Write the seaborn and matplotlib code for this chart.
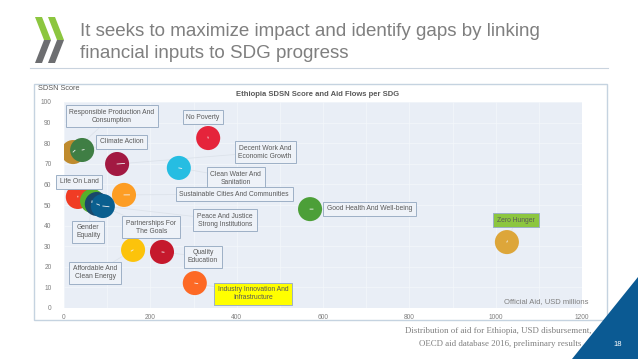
import matplotlib
matplotlib.use("Agg")
import matplotlib.pyplot as plt
import seaborn as sns
import pandas as pd
from matplotlib.patches import Polygon, Rectangle
from matplotlib.lines import Line2D

# ---------------- data ----------------
goals = ["Responsible Production And\nConsumption", "Climate Action", "Decent Work And\nEconomic Growth",
         "No Poverty", "Clean Water And\nSanitation", "Life On Land", "Sustainable Cities And Communities",
         "Gender\nEquality", "Partnerships For\nThe Goals", "Peace And Justice\nStrong Institutions",
         "Affordable And\nClean Energy", "Quality\nEducation", "Industry Innovation And\nInfrastructure",
         "Good Health And Well-being", "Zero Hunger"]
aid = [21, 42, 123, 334, 266, 32, 139, 65, 76, 90, 160, 227, 303, 570, 1026]
score = [75.7, 76.7, 69.9, 82.5, 68.0, 53.9, 54.9, 52.0, 50.5, 49.5, 28.2, 27.2, 12.1, 48.0, 32.0]
colors = ["#bf8b2e", "#3f7e44", "#a21942", "#e5243b", "#26bde2", "#f03c24", "#fd9d24",
          "#56b02b", "#19486a", "#0a5f8f", "#fcc30b", "#c5192d", "#fd6925", "#4c9f38", "#dda63a"]
xticks = [0, 200, 400, 600, 800, 1000, 1200]
yticks = [0, 10, 20, 30, 40, 50, 60, 70, 80, 90, 100]

# label box positions (data coords) - layout
label_pos = [(111, 93.2), (134, 80.6), (466, 75.7), (322, 92.7), (398, 63.1), (35, 61.2),
             (394, 55.3), (56, 36.9), (202, 39.3), (373, 42.7), (72, 17.0), (322, 24.8),
             (438, 6.8), (707, 48.1), (1047, 42.7)]
label_face = {"Industry Innovation And\nInfrastructure": "#ffff00", "Zero Hunger": "#8cc63f"}

df = pd.DataFrame({"goal": goals, "aid": aid, "score": score})

plt.rcParams["font.family"] = ["Liberation Sans", "DejaVu Sans"]

W, H = 638, 359
fig = plt.figure(figsize=(W / 100, H / 100), dpi=100)
fig.patch.set_facecolor("white")

def fx(px):
    return px / W

def fy(py):
    return 1 - py / H

# slide title
fig.text(fx(80), fy(31), "It seeks to maximize impact and identify gaps by linking",
         fontsize=13.5, color="#7f7f7f", va="center", ha="left")
fig.text(fx(80), fy(54), "financial inputs to SDG progress",
         fontsize=13.5, color="#7f7f7f", va="center", ha="left")

# logo chevrons
for dx in (0, 13):
    top = [(35 + dx, 17), (42 + dx, 17), (51 + dx, 40), (44 + dx, 40)]
    bot = [(44 + dx, 40), (51 + dx, 40), (42 + dx, 63), (35 + dx, 63)]
    fig.patches.append(Polygon([(fx(a), fy(b)) for a, b in top], closed=True,
                               transform=fig.transFigure, fc="#8cc63f", ec="none"))
    fig.patches.append(Polygon([(fx(a), fy(b)) for a, b in bot], closed=True,
                               transform=fig.transFigure, fc="#6d6e71", ec="none"))

# horizontal rule
fig.add_artist(Line2D([fx(30), fx(608)], [fy(68), fy(68)], transform=fig.transFigure,
                      color="#c9d3de", lw=0.8))

# chart box
fig.patches.append(Rectangle((fx(34), fy(320)), fx(607) - fx(34), fy(84) - fy(320),
                             transform=fig.transFigure, fc="white", ec="#c5d3e0", lw=1.0,
                             zorder=-5))

# blue triangle and page number
fig.patches.append(Polygon([(fx(638), fy(277)), (fx(638), fy(359)), (fx(572), fy(359))],
                           closed=True, transform=fig.transFigure, fc="#0b5a93", ec="none"))
fig.text(fx(618), fy(345), "18", fontsize=5.5, color="white", ha="center", va="center")

# footnote
fig.text(fx(498), fy(331), "Distribution of aid for Ethiopia, USD disbursement,",
         fontsize=6.4, color="#7f7f7f", family="Liberation Serif", ha="center", va="center")
fig.text(fx(500), fy(344), "OECD aid database 2016, preliminary results",
         fontsize=6.4, color="#7f7f7f", family="Liberation Serif", ha="center", va="center")

# chart
ax = fig.add_axes([fx(64), fy(308), fx(582) - fx(64), fy(102) - fy(308)])
ax.set_zorder(2)
ax.set_facecolor("#e9eef6")
ax.set_xlim(0, 1200)
ax.set_ylim(0, 100)
ax.set_xticks(xticks)
ax.set_yticks(yticks)
ax.set_xticks(range(0, 1201, 100), minor=True)
ax.grid(True, which="both", color="#f4f7fb", lw=0.5)
ax.set_axisbelow(True)
for s in ax.spines.values():
    s.set_visible(False)
ax.tick_params(axis="both", which="both", length=0, labelsize=4.8, labelcolor="#7f7f7f")
ax.tick_params(axis="x", pad=4)
ax.tick_params(axis="y", pad=9)

sns.scatterplot(data=df, x="aid", y="score", hue="goal", palette=colors, s=300,
                edgecolor="none", legend=False, ax=ax, zorder=3)
ax.set_xlabel("")
ax.set_ylabel("")

for g, xa, ya, (lx, ly) in zip(goals, aid, score, label_pos):
    ax.plot([xa, lx], [ya, ly], color="#dde3eb", lw=0.6, zorder=2)
    ax.plot([xa, xa + (lx - xa) * 0.05], [ya, ya + (ly - ya) * 0.05], color="#f2f2f2", lw=0.6, zorder=4)
    ax.text(lx, ly, g, fontsize=4.9, color="#595959", ha="center", va="center",
            multialignment="center", zorder=5,
            bbox=dict(boxstyle="square,pad=0.55", fc=label_face.get(g, "#eef2f8"),
                      ec="#9db0c6", lw=0.7))

fig.text(fx(318), fy(94), "Ethiopia SDSN Score and Aid Flows per SDG", fontsize=5.5,
         fontweight="bold", color="#595959", ha="center", va="center")
fig.text(fx(38), fy(89), "SDSN Score", fontsize=5.3, color="#595959", ha="left", va="center")
fig.text(fx(589), fy(302), "Official Aid, USD millions", fontsize=5.5, color="#7f7f7f",
         ha="right", va="center", zorder=6)

fig.savefig("out.png", dpi=100)
